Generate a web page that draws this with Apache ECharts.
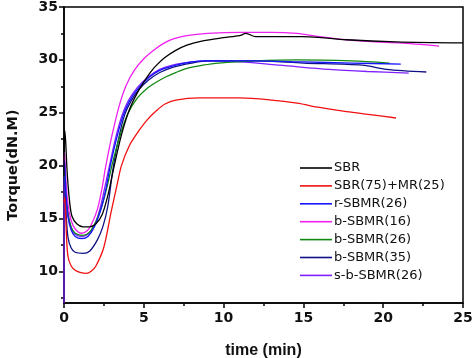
<!DOCTYPE html>
<html>
<head>
<meta charset="utf-8">
<script src="https://cdn.jsdelivr.net/npm/echarts@6/dist/echarts.min.js"></script>
<style>html,body{margin:0;padding:0;background:#fff}#c{width:474px;height:358px}</style>
</head>
<body>
<div id="c"></div>
<script>
// Series names
var seriesNames = ['SBR', 'SBR(75)+MR(25)', 'r-SBMR(26)', 'b-SBMR(16)', 'b-SBMR(26)', 'b-SBMR(35)', 's-b-SBMR(26)'];
var seriesColors = ['#000000', '#f01010', '#1515ff', '#f020f0', '#118811', '#101085', '#8020ff'];

// [time (min), torque (dN.M)]
var sbr = [[0,19],[0.03,23.4],[0.1,22.4],[0.2,19.3],[0.35,16.6],[0.5,15.2],[0.8,14.5],[1.2,14.2],[1.6,14.2],[2.0,14.5],[2.4,15.4],[2.8,17.5],[3.15,20],[3.6,22.9],[4.1,25.3],[4.6,26.9],[5.0,27.9],[5.4,28.8],[5.8,29.5],[6.3,30.2],[7.0,30.9],[7.7,31.4],[8.7,31.8],[10,32.1],[11,32.3],[11.4,32.5],[12,32.2],[13,32.2],[15,32.2],[17.7,31.9],[20.8,31.7],[25,31.6]];
var sbrMr = [[0,16.5],[0.05,17],[0.15,13.5],[0.25,11.4],[0.45,10.5],[0.7,10.1],[1.0,9.9],[1.4,9.8],[1.7,10.0],[2.0,10.5],[2.5,12.3],[2.95,15.6],[3.3,18],[3.6,20],[4.1,21.9],[4.6,23.1],[5.2,24.3],[5.8,25.2],[6.3,25.8],[7,26.2],[8.5,26.4],[11,26.4],[13,26.2],[14.6,25.9],[16,25.5],[17.7,25.1],[19.3,24.8],[20.8,24.5]];
var rSbmr26 = [[0,19.5],[0.03,20.5],[0.12,17.5],[0.25,15.2],[0.45,13.9],[0.7,13.3],[1.1,13.1],[1.5,13.3],[1.9,14.2],[2.3,15.8],[2.6,17.6],[2.9,20],[3.3,22.6],[3.7,24.7],[4.1,26.1],[4.6,27.2],[5.3,28.3],[6.0,29.0],[6.8,29.4],[8,29.8],[9,29.9],[12,29.9],[15,29.8],[18,29.7],[21.1,29.6]];
var bSbmr16 = [[0,20],[0.03,21.3],[0.12,18.6],[0.25,16.3],[0.45,14.8],[0.7,14.0],[1.1,13.6],[1.5,13.9],[1.8,14.7],[2.1,15.9],[2.4,18],[2.6,19.8],[3.0,22.8],[3.45,25.6],[3.9,27.6],[4.4,29.0],[5.0,30.1],[5.7,31.0],[6.3,31.6],[6.9,32.0],[7.7,32.3],[9,32.5],[11,32.6],[13,32.6],[14.6,32.5],[16,32.2],[17.7,31.9],[19.5,31.7],[21,31.6],[23.5,31.3]];
var bSbmr26 = [[0,19],[0.03,19.8],[0.12,17.6],[0.25,15.6],[0.45,14.2],[0.7,13.6],[1.2,13.4],[1.6,13.7],[2.0,14.7],[2.4,16.3],[2.7,18],[3.0,20],[3.5,22.8],[4.0,24.9],[4.6,26.4],[5.2,27.3],[5.8,27.9],[6.4,28.4],[7.0,28.8],[7.7,29.2],[8.7,29.5],[9.7,29.7],[12,29.9],[14.6,30.0],[18,29.9],[20.4,29.7]];
var bSbmr35 = [[0,18.5],[0.03,19],[0.12,15.8],[0.25,13.2],[0.45,12.2],[0.7,11.8],[1.2,11.7],[1.6,11.9],[2.1,13],[2.45,14.3],[2.75,16.2],[3.05,19.5],[3.4,22.4],[3.8,24.8],[4.2,26.1],[4.7,27.2],[5.3,28.1],[6.0,28.8],[6.8,29.3],[8,29.7],[9,29.9],[12,29.9],[15,29.7],[18.7,29.5],[20.2,29.1],[22.7,28.85]];
var sbSbmr26 = [[0,7],[0.01,18.5],[0.04,19.2],[0.12,17],[0.25,15.2],[0.45,14.1],[0.7,13.5],[1.1,13.3],[1.5,13.5],[1.9,14.3],[2.25,15.9],[2.55,17.9],[2.85,20],[3.25,22.7],[3.65,24.8],[4.05,26.2],[4.6,27.4],[5.3,28.4],[6.0,29.1],[6.8,29.5],[8,29.8],[9,29.9],[11,29.8],[13.5,29.5],[16.6,29.1],[19,28.9],[21.6,28.75]];

var seriesData = [sbr, sbrMr, rSbmr26, bSbmr16, bSbmr26, bSbmr35, sbSbmr26];

// axis ticks
var yLabelValues = [10, 15, 20, 25, 30, 35];
var yMinorValues = [7.5, 12.5, 17.5, 22.5, 27.5, 32.5];

var chart = echarts.init(document.getElementById('c'), null, {renderer: 'canvas'});
var tickFont = '"DejaVu Sans", sans-serif';
var series = seriesData.map(function (d, i) {
  return {
    name: seriesNames[i],
    type: 'line',
    data: d,
    symbol: 'none',
    smooth: 0.3,
    lineStyle: {color: seriesColors[i], width: 1.3},
    itemStyle: {color: seriesColors[i]},
    xAxisIndex: 0, yAxisIndex: 0,
    z: 10 - i
  };
});
chart.setOption({
  animation: false,
  backgroundColor: '#fff',
  grid: {left: 64, right: 11, top: 7, bottom: 55, show: true, borderColor: '#000', borderWidth: 1.5, backgroundColor: 'transparent', containLabel: false, outerBoundsMode: 'none'},
  legend: {
    orient: 'vertical', left: 300, top: 161, padding: 0,
    itemWidth: 32, itemHeight: 1.6, itemGap: 3.9,
    icon: 'rect',
    textStyle: {fontFamily: tickFont, fontSize: 13, color: '#111', lineHeight: 14, padding: [0, 0, 0, -3]},
    data: seriesNames
  },
  xAxis: [{
    type: 'value', min: 0, max: 25, interval: 5,
    name: 'time (min)', nameLocation: 'middle', nameGap: 40,
    nameTextStyle: {fontFamily: '"Liberation Sans", Arial, sans-serif', fontSize: 16, fontWeight: 'bold', color: '#111'},
    axisLine: {lineStyle: {color: '#000', width: 1.5}},
    axisTick: {show: true, length: 5, lineStyle: {color: '#000', width: 1.5}},
    minorTick: {show: true, splitNumber: 2, length: 3, lineStyle: {color: '#000', width: 1.5}},
    axisLabel: {fontFamily: tickFont, fontSize: 14, fontWeight: 'bold', color: '#111', margin: 8},
    splitLine: {show: false}
  }],
  yAxis: [{
    type: 'value', min: 7, max: 35,
    name: 'Torque(dN.M)', nameLocation: 'middle', nameGap: 43,
    nameTextStyle: {fontFamily: tickFont, fontSize: 14.5, fontWeight: 'bold', color: '#111', padding: [0, 20, 0, 0]},
    axisLine: {lineStyle: {color: '#000', width: 1.5}},
    axisTick: {show: true, length: 5, customValues: yLabelValues, lineStyle: {color: '#000', width: 1.5}},
    axisLabel: {fontFamily: tickFont, fontSize: 14, fontWeight: 'bold', color: '#111', margin: 6, customValues: yLabelValues},
    splitLine: {show: false}
  }, {
    type: 'value', min: 7, max: 35, position: 'left',
    axisLine: {show: false},
    axisTick: {show: true, length: 3, customValues: yMinorValues, lineStyle: {color: '#000', width: 1.5}},
    axisLabel: {show: false, customValues: yMinorValues},
    splitLine: {show: false}
  }],
  series: series
});
</script>
</body>
</html>
